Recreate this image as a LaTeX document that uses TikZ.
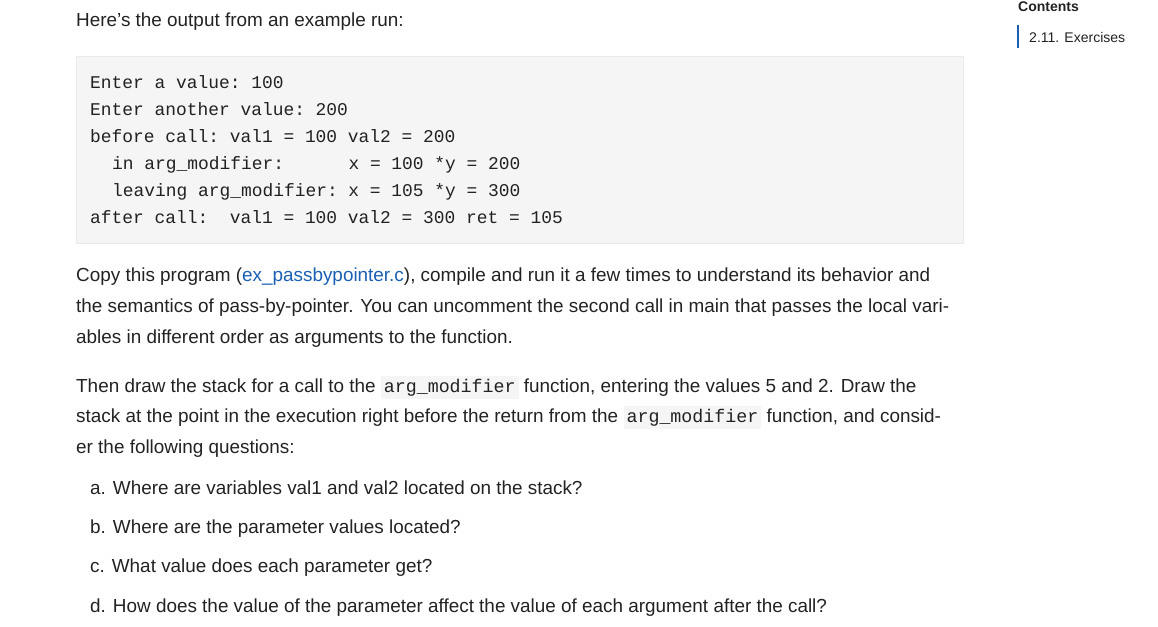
\documentclass[tikz,border=0pt]{standalone}
\usepackage{fontspec}
\setmainfont{Liberation Sans}
\setmonofont{Liberation Mono}
\definecolor{txt}{HTML}{222222}
\definecolor{codebg}{HTML}{F5F5F5}
\definecolor{link}{HTML}{1A5FB4}
\newcommand{\ic}[1]{\tikz[baseline=(q.base)]\node[fill=codebg,inner xsep=3pt,inner ysep=3pt,font=\fontsize{18.3}{20}\ttfamily](q){#1};}
\begin{document}
\begin{tikzpicture}[x=1pt,y=-1pt,
  body/.style={anchor=base west,inner sep=0,text=txt,font=\fontsize{18.9}{20}\selectfont},
  code/.style={anchor=base west,inner sep=0,text=txt,font=\fontsize{17.9}{20}\ttfamily},
  toc/.style={anchor=base west,inner sep=0,text=txt,font=\fontsize{14}{16}\selectfont}]
\useasboundingbox (0,0) rectangle (1158,626);
\node[body] (h) at (76,27) {Here’s the output from an example run:};
\filldraw[fill=codebg,draw=black!8] (76,56) rectangle (963,243);
\node[code] (c1) at (90,88) {Enter~a~value:~100};
\node[code] (c2) at (90,115) {Enter~another~value:~200};
\node[code] (c3) at (90,142) {before~call:~val1~=~100~val2~=~200};
\node[code] (c4) at (112,169) {in~arg\_modifier:~~~~~~x~=~100~*y~=~200};
\node[code] (c5) at (112,196) {leaving~arg\_modifier:~x~=~105~*y~=~300};
\node[code] (c6) at (90,223) {after~call:~~val1~=~100~val2~=~300~ret~=~105};
\node[body] (p1) at (76,281) {Copy this program (\textcolor{link}{ex\_passbypointer.c}), compile and run it a few times to understand its behavior and};
\node[body] (p2) at (76,312) {the semantics of pass-by-pointer. You can uncomment the second call in main that passes the local vari-};
\node[body] (p3) at (76,343) {ables in different order as arguments to the function.};
\node[body] (q1) at (76,392) {Then draw the stack for a call to the \ic{arg\_modifier} function, entering the values 5 and 2. Draw the};
\node[body] (q2) at (76,422) {stack at the point in the execution right before the return from the \ic{arg\_modifier} function, and consid-};
\node[body] (q3) at (76,453) {er the following questions:};
\node[body] (a) at (90,494) {a. Where are variables val1 and val2 located on the stack?};
\node[body] (b) at (90,533) {b. Where are the parameter values located?};
\node[body] (c) at (90,572) {c. What value does each parameter get?};
\node[body] (d) at (90,612) {d. How does the value of the parameter affect the value of each argument after the call?};
\node[toc,font=\fontsize{14}{16}\bfseries] (ct) at (1018,12) {Contents};
\draw[link,line width=1.5pt] (1018,25) -- (1018,48);
\node[toc] (ex) at (1029,42) {2.11. Exercises};
\end{tikzpicture}
\end{document}
